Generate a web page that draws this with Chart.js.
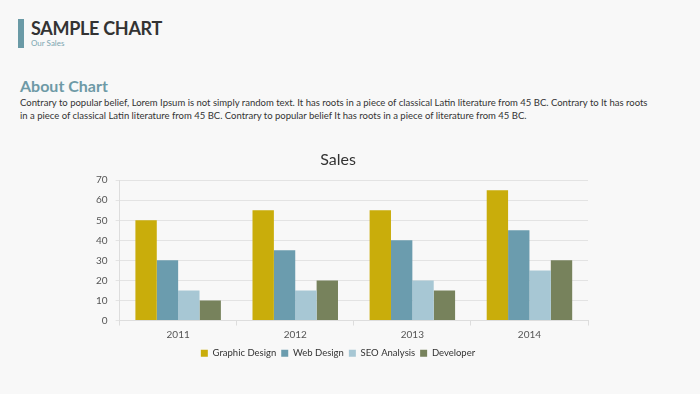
<!DOCTYPE html>
<html><head><meta charset="utf-8">
<script src="https://cdn.jsdelivr.net/npm/chart.js@4"></script>
<style>
html,body{margin:0;padding:0;background:#f8f8f8;width:700px;height:394px;overflow:hidden;font-family:Lato,"Open Sans",sans-serif;}
.bar{position:absolute;left:18px;top:19px;width:6px;height:29px;background:#6a9aa6;}
.h1{position:absolute;left:31px;top:17px;font-size:18px;font-weight:bold;color:#333;letter-spacing:-0.3px;}
.h2{position:absolute;left:31px;top:38px;font-size:8px;color:#7aa5b0;}
.about{position:absolute;left:20px;top:76px;font-size:16px;font-weight:bold;color:#6e9aa6;}
.body{position:absolute;left:20px;top:96px;width:680px;font-size:9.5px;line-height:13px;color:#333;}
#wrap{position:absolute;left:80px;top:148px;width:530px;height:220px;}
</style></head><body>
<div class="bar"></div>
<div class="h1">SAMPLE CHART</div>
<div class="h2">Our Sales</div>
<div class="about">About Chart</div>
<div class="body">Contrary to popular belief, Lorem Ipsum is not simply random text. It has roots in a piece of classical Latin literature from 45 BC. Contrary to It has roots<br>in a piece of classical Latin literature from 45 BC. Contrary to popular belief It has roots in a piece of literature from 45 BC.</div>
<div id="wrap"><canvas id="c"></canvas></div>
<script>
const categories = ["2011","2012","2013","2014"];
const graphicDesign = [50,55,55,65];
const webDesign = [30,35,40,45];
const seoAnalysis = [15,15,20,25];
const developer = [10,20,15,30];
const seriesNames = ["Graphic Design","Web Design","SEO Analysis","Developer"];
const colors = ["#c9ad0b","#6b9cae","#a7c7d4","#77825c"];
const values = [graphicDesign, webDesign, seoAnalysis, developer];
new Chart(document.getElementById('c'), {
  type: 'bar',
  data: {
    labels: categories,
    datasets: values.map((v,i)=>({label: seriesNames[i], data: v, backgroundColor: colors[i], barPercentage: 1, categoryPercentage: 0.73}))
  },
  options: {
    responsive: true, maintainAspectRatio: false, animation: false,
    layout: {padding: {left: 8, right: 22, top: 0, bottom: 0}},
    plugins: {
      title: {display: true, text: 'Sales', color: '#333', font: {family: 'Lato', size: 16, weight: 'normal'}, padding: {top: 2, bottom: 11}},
      legend: {position: 'bottom', labels: {boxWidth: 7, boxHeight: 7, color: '#333', font: {family: 'Lato', size: 9.5}, padding: 5}},
      tooltip: {enabled: false}
    },
    scales: {
      x: {grid: {display: true, drawOnChartArea: false, color: '#ddd', tickLength: 5}, border: {color: '#ddd'}, ticks: {color: '#555', font: {family: 'Lato', size: 10}}},
      y: {min: 0, max: 70, ticks: {stepSize: 10, color: '#555', font: {family: 'Lato', size: 10}, padding: 8}, grid: {color: '#e3e3e3', tickLength: 4}, border: {color: '#ddd'}}
    }
  }
});
</script>
</body></html>
